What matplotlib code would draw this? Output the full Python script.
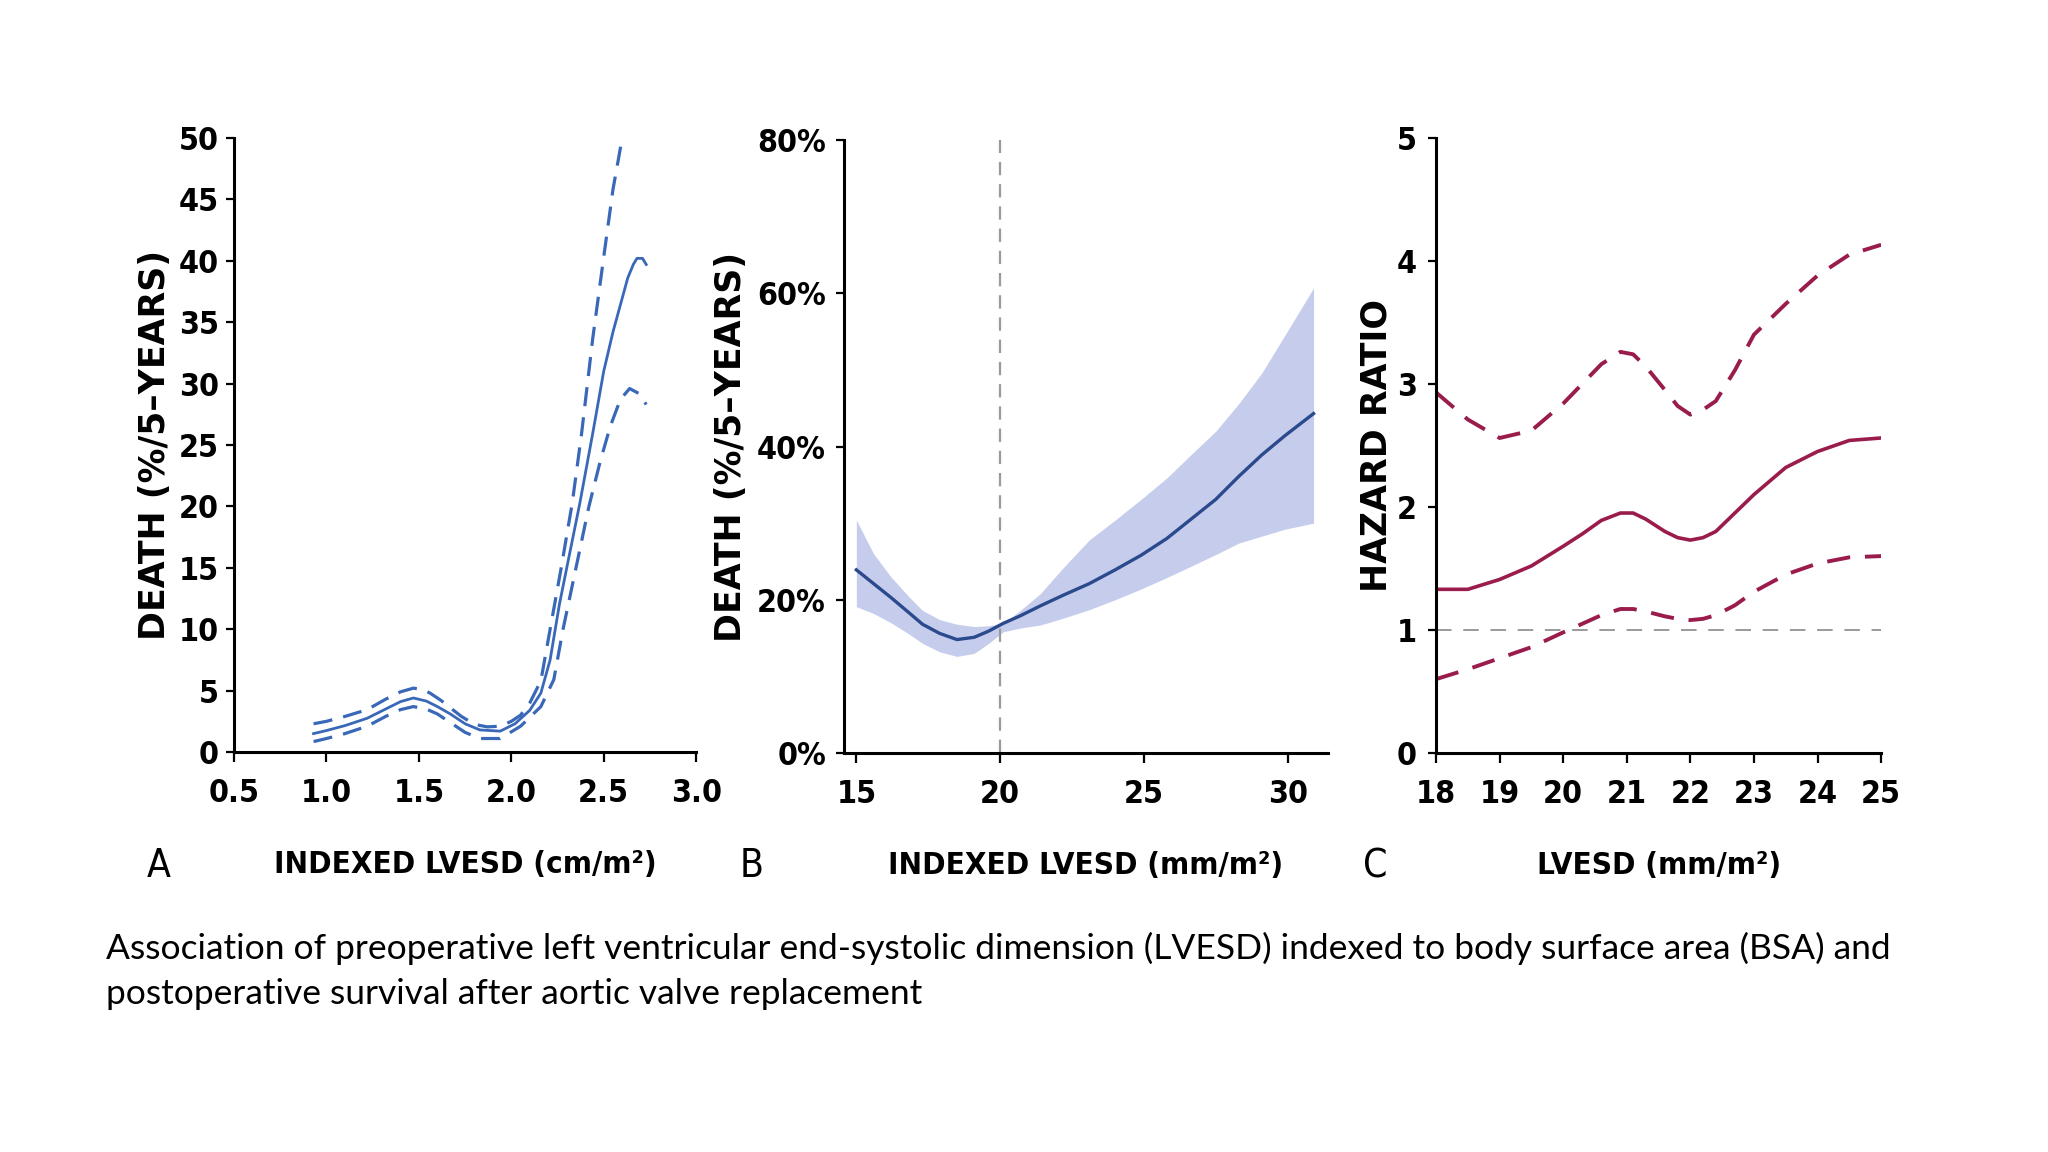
import matplotlib
matplotlib.use("Agg")
import matplotlib.pyplot as plt
from matplotlib import font_manager as fm

# --- Panel A: indexed LVESD (cm/m2) vs death (%/5 years) ---
a_fit_x = [0.93, 1.0, 1.1, 1.22, 1.32, 1.4, 1.47, 1.54, 1.6, 1.67, 1.75, 1.83, 1.94,
           2.02, 2.1, 2.16, 2.21, 2.26, 2.3, 2.37, 2.44, 2.5, 2.55, 2.59, 2.63, 2.66,
           2.68, 2.71, 2.73]
a_fit_y = [1.5, 1.75, 2.15, 2.75, 3.5, 4.1, 4.4, 4.15, 3.7, 3.1, 2.3, 1.8, 1.7,
           2.3, 3.4, 4.8, 7.5, 12.0, 15.0, 20.2, 25.9, 31.0, 34.2, 36.4, 38.6, 39.7,
           40.2, 40.2, 39.7]
a_hi_x = [0.93, 1.0, 1.1, 1.22, 1.32, 1.4, 1.47, 1.52, 1.56, 1.62, 1.67, 1.73, 1.8,
          1.87, 1.94, 2.0, 2.05, 2.1, 2.16, 2.21, 2.27, 2.33, 2.38, 2.44, 2.5, 2.55, 2.6]
a_hi_y = [2.3, 2.5, 2.9, 3.45, 4.3, 4.9, 5.2, 5.1, 4.8, 4.2, 3.6, 2.9, 2.25,
          2.05, 2.1, 2.5, 3.0, 4.0, 5.8, 10.0, 15.0, 20.3, 25.9, 33.6, 40.3, 45.8, 50.0]
a_lo_x = [0.93, 1.0, 1.1, 1.22, 1.32, 1.4, 1.47, 1.54, 1.6, 1.67, 1.75, 1.83, 1.94,
          2.05, 2.16, 2.23, 2.28, 2.35, 2.42, 2.48, 2.535, 2.59, 2.64, 2.69, 2.73]
a_lo_y = [0.85, 1.1, 1.5, 2.1, 2.9, 3.45, 3.7, 3.5, 3.1, 2.4, 1.6, 1.1, 1.1,
          2.1, 3.7, 5.9, 10.0, 15.0, 20.0, 23.6, 26.5, 28.7, 29.6, 29.2, 28.3]
a_xticks = [0.5, 1.0, 1.5, 2.0, 2.5, 3.0]
a_yticks = [0, 5, 10, 15, 20, 25, 30, 35, 40, 45, 50]

# --- Panel B: indexed LVESD (mm/m2) vs death, with confidence band ---
b_x = [15.0, 15.6, 16.2, 16.8, 17.3, 17.9, 18.5, 19.1, 19.6, 20.1, 20.7, 21.4, 22.2,
       23.1, 24.0, 24.9, 25.8, 26.6, 27.5, 28.3, 29.1, 29.9, 30.9]
b_fit = [23.9, 22.1, 20.3, 18.4, 16.8, 15.6, 14.8, 15.1, 15.9, 16.9, 17.9, 19.2, 20.6,
         22.1, 23.9, 25.8, 28.0, 30.4, 33.1, 36.1, 38.9, 41.4, 44.3]
b_hi = [30.4, 26.0, 23.0, 20.5, 18.6, 17.4, 16.8, 16.5, 16.6, 16.9, 18.6, 20.8, 24.2,
        27.8, 30.4, 33.1, 35.9, 38.8, 42.0, 45.6, 49.6, 54.5, 60.7]
b_lo = [19.1, 18.2, 17.0, 15.6, 14.3, 13.2, 12.6, 13.0, 14.3, 15.8, 16.3, 16.7, 17.6,
        18.7, 20.0, 21.4, 22.9, 24.3, 25.9, 27.4, 28.3, 29.2, 30.0]
b_cut = 20
b_xticks = [15, 20, 25, 30]
b_yticks = [0, 20, 40, 60, 80]
b_ylabels = ["0%", "20%", "40%", "60%", "80%"]

# --- Panel C: LVESD (mm/m2) vs hazard ratio ---
c_x = [18.0, 18.5, 19.0, 19.5, 20.0, 20.3, 20.6, 20.9, 21.1, 21.3, 21.6, 21.8, 22.0,
       22.2, 22.4, 22.7, 23.0, 23.5, 24.0, 24.5, 25.0]
c_fit = [1.33, 1.33, 1.41, 1.52, 1.68, 1.78, 1.89, 1.95, 1.95, 1.90, 1.80, 1.75, 1.73,
         1.75, 1.80, 1.95, 2.10, 2.32, 2.45, 2.54, 2.56]
c_hi = [2.93, 2.71, 2.56, 2.62, 2.84, 3.00, 3.16, 3.26, 3.24, 3.14, 2.95, 2.82, 2.75,
        2.79, 2.86, 3.11, 3.40, 3.65, 3.88, 4.05, 4.13]
c_lo = [0.60, 0.68, 0.77, 0.86, 0.98, 1.05, 1.12, 1.17, 1.17, 1.15, 1.11, 1.09, 1.08,
        1.09, 1.12, 1.20, 1.31, 1.45, 1.54, 1.59, 1.60]
c_ref = 1
c_xticks = [18, 19, 20, 21, 22, 23, 24, 25]
c_yticks = [0, 1, 2, 3, 4, 5]

caption = ("Association of preoperative left ventricular end-systolic dimension (LVESD) "
           "indexed to body surface area (BSA) and\npostoperative survival after aortic "
           "valve replacement")

BLUE = "#3a68b8"
NAVY = "#2b4a8e"
BAND = "#c6cdec"
RED = "#9a1c4c"
GRAY = "#9a9a9a"


def narrow_font(want_bold):
    """Look for an installed condensed sans font (the figure uses narrow lettering)."""
    prefs = ["Liberation Sans Narrow", "DejaVu Sans", "Noto Sans", "Roboto", "Open Sans",
             "Arial Narrow"]
    best, best_score = None, None
    for f in fm.fontManager.ttflist:
        label = (f.name + " " + f.fname).lower()
        narrow = ("narrow" in label or "condensed" in label
                  or str(f.stretch) in ("condensed", "semi-condensed", "extra-condensed"))
        if not narrow or "mono" in label or "serif" in f.name.lower() or "italic" in label \
                or "oblique" in label:
            continue
        w = f.weight if isinstance(f.weight, int) else fm.weight_dict.get(f.weight, 400)
        target = 700 if want_bold else 400
        rank = prefs.index(f.name) if f.name in prefs else len(prefs)
        score = (abs(w - target), rank)
        if best_score is None or score < best_score:
            best, best_score = f, score
    return best


nb = narrow_font(True)
nr = narrow_font(False)
if nb is not None:
    TICK_FP = dict(fontproperties=fm.FontProperties(fname=nb.fname, size=23))
    LAB_FP = dict(fontproperties=fm.FontProperties(fname=nb.fname, size=22.5))
else:
    TICK_FP = dict(family="DejaVu Sans", fontweight="bold", fontsize=18)
    LAB_FP = dict(family="DejaVu Sans", fontweight="bold", fontsize=17)
if nr is not None:
    LET_FP = dict(fontproperties=fm.FontProperties(fname=nr.fname, size=28))
else:
    LET_FP = dict(family="DejaVu Sans", fontsize=24)

fig = plt.figure(figsize=(20.48, 11.52), dpi=100)
axA = fig.add_axes([0.1143, 0.3472, 0.2256, 0.533])
axB = fig.add_axes([0.4121, 0.3464, 0.2363, 0.532])
axC = fig.add_axes([0.7012, 0.3464, 0.2173, 0.534])


def style_axis(ax, xlabel, ylabel, ypad, ylabel_x):
    for side in ("top", "right"):
        ax.spines[side].set_visible(False)
    for side in ("left", "bottom"):
        ax.spines[side].set_linewidth(2.2)
    ax.tick_params(axis="x", length=7, width=1.6, pad=12)
    ax.tick_params(axis="y", length=6, width=1.6, pad=ypad)
    for lab in ax.get_xticklabels() + ax.get_yticklabels():
        if "fontproperties" in TICK_FP:
            lab.set_fontproperties(TICK_FP["fontproperties"])
        else:
            lab.set_family(TICK_FP["family"])
            lab.set_fontweight("bold")
            lab.set_fontsize(TICK_FP["fontsize"])
    ax.set_xlabel(xlabel, labelpad=29, **LAB_FP)
    ax.set_ylabel(ylabel, family="DejaVu Sans", fontweight="bold", fontsize=25)
    ax.yaxis.set_label_coords(ylabel_x, 0.5)


# Panel A
axA.plot(a_fit_x, a_fit_y, color=BLUE, lw=2.0, solid_joinstyle="round")
axA.plot(a_hi_x, a_hi_y, color=BLUE, lw=2.3, dashes=(6, 3.5))
axA.plot(a_lo_x, a_lo_y, color=BLUE, lw=2.3, dashes=(6, 3.5))
axA.set_xlim(0.5, 3.0)
axA.set_ylim(0, 50)
axA.set_xticks(a_xticks)
axA.set_xticklabels([f"{v:.1f}" for v in a_xticks])
axA.set_yticks(a_yticks)
style_axis(axA, "INDEXED LVESD (cm/m\u00b2)", "DEATH (%/5\u2013YEARS)", 5, -0.135)

# Panel B
axB.fill_between(b_x, b_lo, b_hi, color=BAND, lw=0)
axB.plot(b_x, b_fit, color=NAVY, lw=2.4, solid_joinstyle="round")
axB.axvline(b_cut, ymin=0, ymax=1, color=GRAY, lw=1.6, dashes=(6, 4))
axB.set_xlim(14.57, 31.4)
axB.set_ylim(0, 80)
axB.set_xticks(b_xticks)
axB.set_yticks(b_yticks)
axB.set_yticklabels(b_ylabels)
style_axis(axB, "INDEXED LVESD (mm/m\u00b2)", "DEATH (%/5\u2013YEARS)", 7, -0.198)

# Panel C
axC.plot(c_x, c_fit, color=RED, lw=2.6, solid_joinstyle="round")
axC.plot(c_x, c_hi, color=RED, lw=2.8, dashes=(6, 3.8))
axC.plot(c_x, c_lo, color=RED, lw=2.8, dashes=(6, 3.8))
axC.plot([c_xticks[0], c_xticks[-1]], [c_ref, c_ref], color=GRAY, lw=1.4, dashes=(8, 6))
axC.set_xlim(18, 25)
axC.set_ylim(0, 5)
axC.set_xticks(c_xticks)
axC.set_yticks(c_yticks)
style_axis(axC, "LVESD (mm/m\u00b2)", "HAZARD RATIO", 8, -0.095)

# panel letters
for x, letter in [(159, "A"), (752, "B"), (1375, "C")]:
    fig.text(x / 2048, 1 - 866 / 1152, letter, ha="center", va="center", **LET_FP)

fig.text(106 / 2048, 1 - 932 / 1152, caption, family=["Lato", "DejaVu Sans"],
         fontsize=25.5, ha="left", va="top", linespacing=1.5)

fig.savefig("out.png", dpi=100)
